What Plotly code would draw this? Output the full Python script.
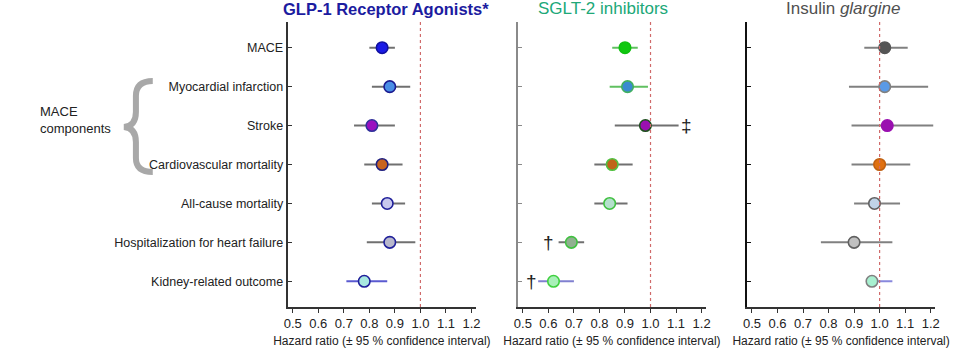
import plotly.graph_objects as go

W, H = 973, 357

outcomes = ["MACE", "Myocardial infarction", "Stroke", "Cardiovascular mortality",
            "All-cause mortality", "Hospitalization for heart failure", "Kidney-related outcome"]
x_ticks = [0.5, 0.6, 0.7, 0.8, 0.9, 1.0, 1.1, 1.2]
x_tick_text = ["0.5", "0.6", "0.7", "0.8", "0.9", "1.0", "1.1", "1.2"]
reference_hr = 1.0

glp_hr = [0.85, 0.88, 0.81, 0.85, 0.87, 0.88, 0.78]
glp_lo = [0.80, 0.81, 0.74, 0.78, 0.81, 0.79, 0.71]
glp_hi = [0.90, 0.96, 0.90, 0.93, 0.94, 0.98, 0.87]

sglt_hr = [0.90, 0.91, 0.98, 0.85, 0.84, 0.69, 0.62]
sglt_lo = [0.85, 0.84, 0.86, 0.78, 0.78, 0.64, 0.56]
sglt_hi = [0.95, 0.99, 1.11, 0.93, 0.91, 0.74, 0.70]

glar_hr = [1.02, 1.02, 1.03, 1.00, 0.98, 0.90, 0.97]
glar_lo = [0.94, 0.88, 0.89, 0.89, 0.90, 0.77, 0.95]
glar_hi = [1.11, 1.19, 1.21, 1.12, 1.08, 1.05, 1.05]

panel_titles = ["<b>GLP-1 Receptor Agonists*</b>", "SGLT-2 inhibitors", "Insulin <i>glargine</i>"]

# styles
glp_fill = ["#1a1ae6", "#4a8ee6", "#9a10c0", "#c86420", "#c8c8ee", "#b8b8cc", "#a8e8e0"]
glp_edge = ["#1010a0", "#1a1a90", "#30309a", "#202080", "#20209a", "#20209a", "#20209a"]
glp_line = ["#707070", "#707070", "#707070", "#707070", "#707070", "#707070", "#5a5ad0"]

sglt_fill = ["#10c810", "#3a8ad0", "#9a10b0", "#c0641a", "#b4e0cc", "#90b090", "#a8f0b8"]
sglt_edge = ["#10c010", "#40b060", "#205020", "#50c040", "#40c040", "#40c040", "#40d040"]
sglt_line = ["#60c060", "#60c060", "#707070", "#707070", "#707070", "#707070", "#8080d0"]

glar_fill = ["#555555", "#5a9ae6", "#9a10b0", "#e07010", "#c0d4e8", "#c0c0c0", "#a8f0d0"]
glar_edge = ["#555555", "#808080", "#9a10b0", "#c06010", "#606060", "#606060", "#808080"]
glar_line = ["#808080", "#808080", "#808080", "#808080", "#808080", "#808080", "#8888dd"]

panels = [
    (glp_hr, glp_lo, glp_hi, glp_fill, glp_edge, glp_line),
    (sglt_hr, sglt_lo, sglt_hi, sglt_fill, sglt_edge, sglt_line),
    (glar_hr, glar_lo, glar_hi, glar_fill, glar_edge, glar_line),
]

x_domains = [(286 / W, 476 / W), (518 / W, 708 / W), (749 / W, 939 / W)]
y_domain = (1 - 307 / H, 1 - 22 / H)
title_x = [385, 604, 846]
title_size = [16.5, 17, 17]
title_col = ["#1c1ca0", "#20a878", "#505050"]
yaxis_col = ["#333333", "#8a8a8a", "#111111"]

fig = go.Figure()
rows = list(range(len(outcomes)))

for p, (hr, lo, hi, fill, edge, lcol) in enumerate(panels):
    xa = "x" if p == 0 else f"x{p+1}"
    ya = "y" if p == 0 else f"y{p+1}"
    for i in rows:
        fig.add_trace(go.Scatter(x=[lo[i], hi[i]], y=[i, i], mode="lines",
                                 line=dict(color=lcol[i], width=2),
                                 xaxis=xa, yaxis=ya, showlegend=False, hoverinfo="skip"))
    fig.add_trace(go.Scatter(x=hr, y=rows, mode="markers",
                             marker=dict(size=11.5, color=fill,
                                         line=dict(color=edge, width=1.6)),
                             xaxis=xa, yaxis=ya, showlegend=False))

layout = dict(width=W, height=H, margin=dict(l=0, r=0, t=0, b=0),
              paper_bgcolor="white", plot_bgcolor="white",
              font=dict(family="Liberation Sans, Arial, sans-serif", color="#222222"))

for p in range(3):
    xk = "xaxis" if p == 0 else f"xaxis{p+1}"
    yk = "yaxis" if p == 0 else f"yaxis{p+1}"
    ya = "y" if p == 0 else f"y{p+1}"
    xa = "x" if p == 0 else f"x{p+1}"
    layout[xk] = dict(domain=list(x_domains[p]), anchor=ya, range=[0.48, 1.218],
                      tickvals=x_ticks, ticktext=x_tick_text, ticks="outside", ticklen=4,
                      tickcolor="#333", showline=True, linecolor="#333", linewidth=1.5,
                      showgrid=False, zeroline=False, tickfont=dict(size=13, color="#222"),
                      title=dict(text="Hazard ratio (± 95 % confidence interval)",
                                 font=dict(size=12, color="#222"), standoff=6))
    layout[yk] = dict(domain=list(y_domain), anchor=xa, range=[6.66, -0.66],
                      tickvals=rows, ticktext=outcomes, showticklabels=(p == 0),
                      ticks="inside", ticklen=4, tickcolor=yaxis_col[p],
                      showline=True, linecolor=yaxis_col[p], linewidth=2,
                      showgrid=False, zeroline=False, tickfont=dict(size=12.5, color="#222"))

fig.update_layout(**layout)

for p in range(3):
    xa = "x" if p == 0 else f"x{p+1}"
    ya = "y" if p == 0 else f"y{p+1}"
    fig.add_shape(type="line", xref=xa, yref=f"{ya} domain", x0=reference_hr, x1=reference_hr,
                  y0=0, y1=1, line=dict(color="#d06a6a", width=1.2, dash="dot"))
    fig.add_annotation(xref="paper", yref="paper", x=title_x[p] / W, y=1 - 8.5 / H,
                       text=panel_titles[p], showarrow=False, xanchor="center", yanchor="middle",
                       font=dict(size=title_size[p], color=title_col[p]))

# significance markers on SGLT-2 panel
fig.add_annotation(xref="x2", yref="y2", x=1.14, y=2, text="‡", showarrow=False,
                   font=dict(size=19, color="#222"))
fig.add_annotation(xref="x2", yref="y2", x=0.60, y=5, text="†", showarrow=False,
                   font=dict(size=19, color="#222"))
fig.add_annotation(xref="x2", yref="y2", x=0.535, y=6, text="†", showarrow=False,
                   font=dict(size=19, color="#222"))

# MACE components brace and label
def fx(px):
    return px / W

def fy(py):
    return 1 - py / H

path = (f"M {fx(150)},{fy(81)} Q {fx(133)},{fy(81)} {fx(133)},{fy(96)} L {fx(133)},{fy(112)} "
        f"Q {fx(133)},{fy(126)} {fx(121)},{fy(127)} Q {fx(133)},{fy(128)} {fx(133)},{fy(142)} "
        f"L {fx(133)},{fy(158)} Q {fx(133)},{fy(172)} {fx(150)},{fy(172)}")
fig.add_shape(type="path", xref="paper", yref="paper", path=path,
              line=dict(color="#a8a8a8", width=6))
fig.add_annotation(xref="paper", yref="paper", x=fx(34), y=fy(120), text="MACE<br>components",
                   showarrow=False, xanchor="left", yanchor="middle", align="left",
                   font=dict(size=13, color="#222"))

fig.write_html("out.html", config={"displayModeBar": False},
               post_script="document.body.style.margin='0';")
